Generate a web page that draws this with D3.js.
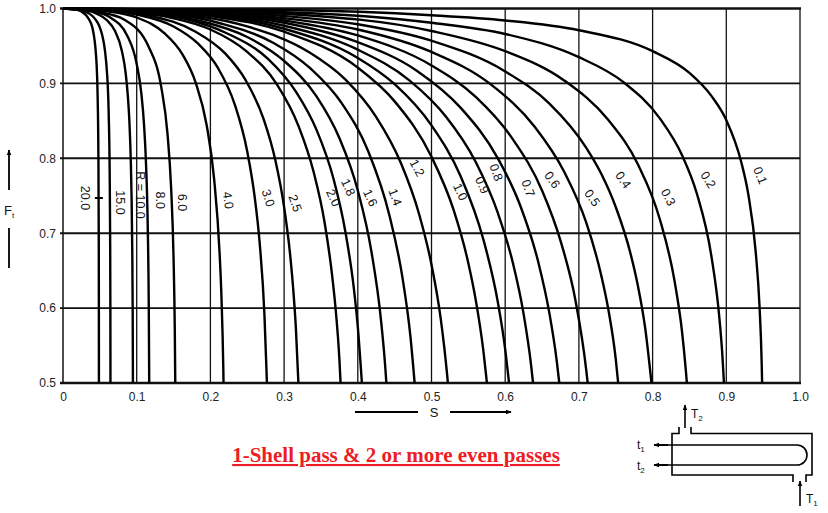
<!DOCTYPE html>
<html><head><meta charset="utf-8">
<script src="https://cdn.jsdelivr.net/npm/d3@7"></script>
<style>
html,body{margin:0;padding:0;background:#fff;}
svg{display:block;}
</style></head>
<body>
<svg id="chart" width="828" height="513"></svg>
<script>
// ---------- data ----------
const sTicks = [0, 0.1, 0.2, 0.3, 0.4, 0.5, 0.6, 0.7, 0.8, 0.9, 1.0];
const ftTicks = [0.5, 0.6, 0.7, 0.8, 0.9, 1.0];
const rLabels = ["20.0","15.0","R = 10.0","8.0","6.0","4.0","3.0","2.5","2.0","1.8","1.6","1.4","1.2","1.0","0.9","0.8","0.7","0.6","0.5","0.4","0.3","0.2","0.1"];

// each curve: [S, Ft] pairs
const curveR20 = [[0,1],[0.015,0.999],[0.025,0.996],[0.035,0.986],[0.04,0.974],[0.045,0.935],[0.047,0.882],[0.048,0.805],[0.0485,0.695],[0.04865,0.610],[0.0487,0.554],[0.04874,0.50]];
const curveR15 = [[0,1],[0.02,0.999],[0.02667,0.997],[0.04,0.990],[0.05333,0.964],[0.06,0.910],[0.062,0.860],[0.06333,0.781],[0.064,0.685],[0.06427,0.598],[0.06436,0.532],[0.06439,0.50]];
const curveR10 = [[0,1],[0.03,0.998],[0.05,0.991],[0.06,0.984],[0.07,0.971],[0.08,0.943],[0.085,0.914],[0.088,0.883],[0.09,0.851],[0.092,0.796],[0.093,0.751],[0.094,0.674],[0.0945,0.604],[0.0948,0.527],[0.09486,0.50]];
const curveR8 = [[0,1],[0.0375,0.997],[0.0625,0.989],[0.0875,0.963],[0.1,0.926],[0.10625,0.887],[0.11,0.844],[0.1125,0.796],[0.115,0.708],[0.11625,0.616],[0.11688,0.520],[0.11695,0.50]];
const curveR6 = [[0,1],[0.05,0.995],[0.08333,0.985],[0.11667,0.948],[0.13333,0.895],[0.14167,0.834],[0.14667,0.761],[0.15,0.667],[0.15167,0.572],[0.15233,0.50]];
const curveR4 = [[0,1],[0.0625,0.996],[0.1,0.988],[0.1375,0.967],[0.1625,0.938],[0.18,0.901],[0.195,0.844],[0.205,0.773],[0.2125,0.673],[0.215,0.615],[0.2175,0.520],[0.21783,0.50]];
const curveR3 = [[0,1],[0.05,0.998],[0.1,0.992],[0.15,0.976],[0.18333,0.953],[0.21,0.921],[0.23333,0.871],[0.25,0.809],[0.26,0.749],[0.26667,0.689],[0.27333,0.591],[0.27673,0.50]];
const curveR25 = [[0,1],[0.06,0.997],[0.12,0.990],[0.18,0.969],[0.22,0.940],[0.248,0.904],[0.272,0.853],[0.288,0.798],[0.3,0.735],[0.308,0.673],[0.312,0.630],[0.316,0.573],[0.3194,0.50]];
const curveR2 = [[0,1],[0.1,0.995],[0.15,0.987],[0.2,0.972],[0.25,0.942],[0.29,0.899],[0.32,0.842],[0.34,0.782],[0.355,0.714],[0.365,0.645],[0.37,0.598],[0.375,0.532],[0.37665,0.50]];
const curveR18 = [[0,1],[0.1,0.995],[0.16667,0.986],[0.22222,0.967],[0.27778,0.933],[0.31667,0.888],[0.34444,0.837],[0.36667,0.774],[0.38333,0.701],[0.39444,0.628],[0.4,0.575],[0.40558,0.50]];
const curveR16 = [[0,1],[0.1,0.994],[0.1875,0.983],[0.25,0.962],[0.3,0.930],[0.34375,0.883],[0.375,0.827],[0.4,0.757],[0.41875,0.674],[0.43125,0.586],[0.4375,0.518],[0.43875,0.50]];
const curveR14 = [[0,1],[0.1,0.996],[0.21429,0.980],[0.28571,0.954],[0.33571,0.920],[0.37857,0.873],[0.41429,0.809],[0.44286,0.724],[0.46071,0.640],[0.47143,0.562],[0.47714,0.50]];
const curveR12 = [[0,1],[0.125,0.995],[0.25,0.976],[0.33333,0.942],[0.38333,0.905],[0.425,0.855],[0.45833,0.794],[0.48333,0.725],[0.5,0.658],[0.5125,0.586],[0.52083,0.515],[0.52225,0.50]];
const curveR10b = [[0,1],[0.1,0.998],[0.2,0.990],[0.3,0.969],[0.4,0.921],[0.45,0.876],[0.5,0.802],[0.53,0.731],[0.55,0.660],[0.56,0.611],[0.57,0.546],[0.5752,0.50]];
const curveR09 = [[0,1],[0.2,0.991],[0.3,0.973],[0.4,0.934],[0.45,0.899],[0.5,0.844],[0.54,0.775],[0.57,0.693],[0.59,0.608],[0.6,0.545],[0.6052,0.50]];
const curveR08 = [[0,1],[0.2,0.992],[0.3,0.977],[0.4,0.945],[0.47,0.904],[0.52,0.855],[0.56,0.795],[0.59,0.727],[0.61,0.662],[0.625,0.592],[0.635,0.525],[0.6378,0.50]];
const curveR07 = [[0,1],[0.2,0.993],[0.3,0.981],[0.4,0.955],[0.48,0.917],[0.54,0.867],[0.59,0.800],[0.62,0.738],[0.645,0.661],[0.66,0.593],[0.67,0.529],[0.6734,0.50]];
const curveR06 = [[0,1],[0.2,0.994],[0.3,0.984],[0.4,0.964],[0.5,0.924],[0.56,0.882],[0.61,0.826],[0.65,0.757],[0.675,0.690],[0.695,0.612],[0.71,0.517],[0.7119,0.50]];
const curveR05 = [[0,1],[0.2,0.995],[0.3,0.987],[0.4,0.972],[0.5,0.942],[0.58,0.899],[0.64,0.842],[0.68,0.782],[0.71,0.714],[0.73,0.645],[0.74,0.598],[0.75,0.532],[0.7533,0.50]];
const curveR04 = [[0,1],[0.2,0.996],[0.3,0.990],[0.4,0.979],[0.5,0.957],[0.6,0.916],[0.66,0.873],[0.71,0.814],[0.73,0.780],[0.75,0.735],[0.77,0.673],[0.78,0.630],[0.79,0.573],[0.7985,0.50]];
const curveR03 = [[0,1],[0.2,0.997],[0.3,0.993],[0.5,0.970],[0.6,0.943],[0.68,0.904],[0.74,0.851],[0.78,0.792],[0.81,0.718],[0.83,0.635],[0.84,0.568],[0.845,0.518],[0.8465,0.50]];
const curveR02 = [[0,1],[0.3,0.995],[0.5,0.981],[0.6,0.966],[0.7,0.935],[0.76,0.902],[0.81,0.853],[0.84,0.804],[0.86,0.753],[0.88,0.668],[0.89,0.593],[0.895,0.532],[0.8968,0.50]];
const curveR01 = [[0,1],[0.3,0.998],[0.5,0.991],[0.6,0.984],[0.7,0.971],[0.8,0.943],[0.85,0.914],[0.88,0.883],[0.9,0.851],[0.92,0.796],[0.93,0.751],[0.94,0.674],[0.945,0.604],[0.948,0.527],[0.9486,0.50]];

// label anchor in data units [S, Ft] and rotation (deg)
const labelPlacement = [
  [0.0299,0.747,90],[0.0773,0.741,90],[0.1045,0.751,90],[0.1316,0.744,90],[0.1615,0.741,90],
  [0.2239,0.744,82],[0.2782,0.747,72],[0.3148,0.740,70],[0.3664,0.747,65],[0.3867,0.761,65],
  [0.4166,0.747,65],[0.4505,0.748,70],[0.4803,0.787,62],[0.5387,0.755,65],[0.5685,0.764,65],
  [0.5875,0.781,70],[0.6309,0.760,70],[0.6635,0.771,55],[0.7178,0.747,55],[0.7598,0.771,55],
  [0.8209,0.748,62],[0.8752,0.771,58],[0.9457,0.777,68]
];

const curveSets = [curveR20,curveR15,curveR10,curveR8,curveR6,curveR4,curveR3,curveR25,curveR2,curveR18,curveR16,curveR14,curveR12,curveR10b,curveR09,curveR08,curveR07,curveR06,curveR05,curveR04,curveR03,curveR02,curveR01];

// ---------- drawing ----------
const svg = d3.select("#chart");
const font = "'Liberation Sans', Arial, Helvetica, sans-serif";
const x = d3.scaleLinear().domain([0,1]).range([63,800]);
const y = d3.scaleLinear().domain([0.5,1]).range([383,8.5]);

// grid
svg.append("g").selectAll("line").data(sTicks.filter(d=>d>0)).join("line")
  .attr("x1",d=>x(d)).attr("x2",d=>x(d)).attr("y1",y(1)).attr("y2",y(0.5))
  .attr("stroke","#111").attr("stroke-width",1.3);
svg.append("g").selectAll("line").data(ftTicks.filter(d=>d>0.5 && d<1)).join("line")
  .attr("x1",x(0)-3).attr("x2",x(1)).attr("y1",d=>y(d)).attr("y2",d=>y(d))
  .attr("stroke","#111").attr("stroke-width",1.9);

// frame
svg.append("line").attr("x1",x(0)).attr("x2",x(0)).attr("y1",y(1)).attr("y2",y(0.5)).attr("stroke","#111").attr("stroke-width",1.5);
svg.append("line").attr("x1",x(0)-3).attr("x2",x(1)+1).attr("y1",y(1)).attr("y2",y(1)).attr("stroke","#111").attr("stroke-width",2.4);
svg.append("line").attr("x1",x(0)-3).attr("x2",x(1)+1).attr("y1",y(0.5)).attr("y2",y(0.5)).attr("stroke","#111").attr("stroke-width",2.4);

// axes labels via d3 axes
const yAxis = d3.axisLeft(y).tickValues(ftTicks).tickSize(0).tickPadding(7).tickFormat(d3.format(".1f"));
const gy = svg.append("g").attr("transform",`translate(${x(0)},0)`).call(yAxis);
gy.select(".domain").remove();
gy.selectAll("text").attr("font-family",font).attr("font-size",12).attr("fill","#222");

const xAxis = d3.axisBottom(x).tickValues(sTicks).tickSize(0).tickPadding(9).tickFormat(d=>d===0?"0":d3.format(".1f")(d));
const gx = svg.append("g").attr("transform",`translate(0,${y(0.5)})`).call(xAxis);
gx.select(".domain").remove();
gx.selectAll("text").attr("font-family",font).attr("font-size",12).attr("fill","#222");

// curves
const line = d3.line().x(d=>x(d[0])).y(d=>y(d[1])).curve(d3.curveMonotoneX);
svg.append("g").selectAll("path").data(curveSets).join("path")
  .attr("d",line).attr("fill","none").attr("stroke","#000").attr("stroke-width",2.4)
  .attr("stroke-linejoin","round").attr("stroke-linecap","butt");

// curve labels
svg.append("g").selectAll("text").data(rLabels).join("text")
  .attr("transform",(d,i)=>`translate(${x(labelPlacement[i][0])},${y(labelPlacement[i][1])}) rotate(${labelPlacement[i][2]})`)
  .attr("text-anchor","middle").attr("dominant-baseline","central")
  .attr("font-family",font).attr("font-size",12.5).attr("fill","#111").text(d=>d);

// small tick on R = 20 curve beside its label
const r20AtLabel = curveR20[9][0];
svg.append("line").attr("x1",x(r20AtLabel)-4).attr("x2",x(r20AtLabel)+4)
  .attr("y1",y(labelPlacement[0][1])).attr("y2",y(labelPlacement[0][1]))
  .attr("stroke","#000").attr("stroke-width",2);

// arrow marker
const defs = svg.append("defs");
defs.append("marker").attr("id","ah").attr("viewBox","0 0 10 10").attr("refX",9).attr("refY",5)
  .attr("markerWidth",6).attr("markerHeight",6).attr("orient","auto-start-reverse").attr("markerUnits","userSpaceOnUse")
  .append("path").attr("d","M0,1 L10,5 L0,9 Z").attr("fill","#000");

// Ft axis title
svg.append("line").attr("x1",9).attr("x2",9).attr("y1",190).attr("y2",150).attr("stroke","#000").attr("stroke-width",1.8).attr("marker-end","url(#ah)");
svg.append("line").attr("x1",9).attr("x2",9).attr("y1",228).attr("y2",268).attr("stroke","#000").attr("stroke-width",1.8);
const ft = svg.append("text").attr("x",4).attr("y",215).attr("font-family",font).attr("font-size",13).attr("fill","#111");
ft.append("tspan").text("F");
ft.append("tspan").attr("font-size",8).attr("dy",3).text("t");

// S axis title
svg.append("line").attr("x1",355).attr("x2",418).attr("y1",412).attr("y2",412).attr("stroke","#000").attr("stroke-width",2);
svg.append("line").attr("x1",450).attr("x2",511).attr("y1",412).attr("y2",412).attr("stroke","#000").attr("stroke-width",2).attr("marker-end","url(#ah)");
svg.append("text").attr("x",434).attr("y",417).attr("text-anchor","middle").attr("font-family",font).attr("font-size",13).attr("fill","#111").text("S");

// title
svg.append("text").attr("x",396).attr("y",462).attr("text-anchor","middle")
  .attr("font-family","'Liberation Serif','Times New Roman',serif").attr("font-weight","bold").attr("font-size",21)
  .attr("fill","#ee1c24").style("text-decoration","underline").text("1-Shell pass & 2 or more even passes");

// exchanger sketch
const sk = svg.append("g").attr("fill","none").attr("stroke","#000").attr("stroke-width",1.6);
sk.append("path").attr("d","M679,427 V433.5 H672 V475 H793 V482");
sk.append("path").attr("d","M691,427 V433.5 H812 V475 H806 V482");
sk.append("path").attr("d","M656,445 H797 A10,10 0 0 1 797,465 H656");
svg.append("line").attr("x1",668).attr("x2",654).attr("y1",445).attr("y2",445).attr("stroke","#000").attr("stroke-width",1.8).attr("marker-end","url(#ah)");
svg.append("line").attr("x1",668).attr("x2",654).attr("y1",465).attr("y2",465).attr("stroke","#000").attr("stroke-width",1.8).attr("marker-end","url(#ah)");
svg.append("line").attr("x1",685).attr("x2",685).attr("y1",428).attr("y2",405).attr("stroke","#000").attr("stroke-width",1.6).attr("marker-end","url(#ah)");
svg.append("line").attr("x1",800).attr("x2",800).attr("y1",506).attr("y2",481).attr("stroke","#000").attr("stroke-width",1.6).attr("marker-end","url(#ah)");
function subLabel(px,py,main,sub){
  const t = svg.append("text").attr("x",px).attr("y",py).attr("font-family",font).attr("font-size",12).attr("fill","#111");
  t.append("tspan").text(main);
  t.append("tspan").attr("font-size",8).attr("dy",3).text(sub);
}
subLabel(637,449,"t","1");
subLabel(637,470,"t","2");
subLabel(691,418,"T","2");
subLabel(806,503,"T","1");
</script>
</body></html>
